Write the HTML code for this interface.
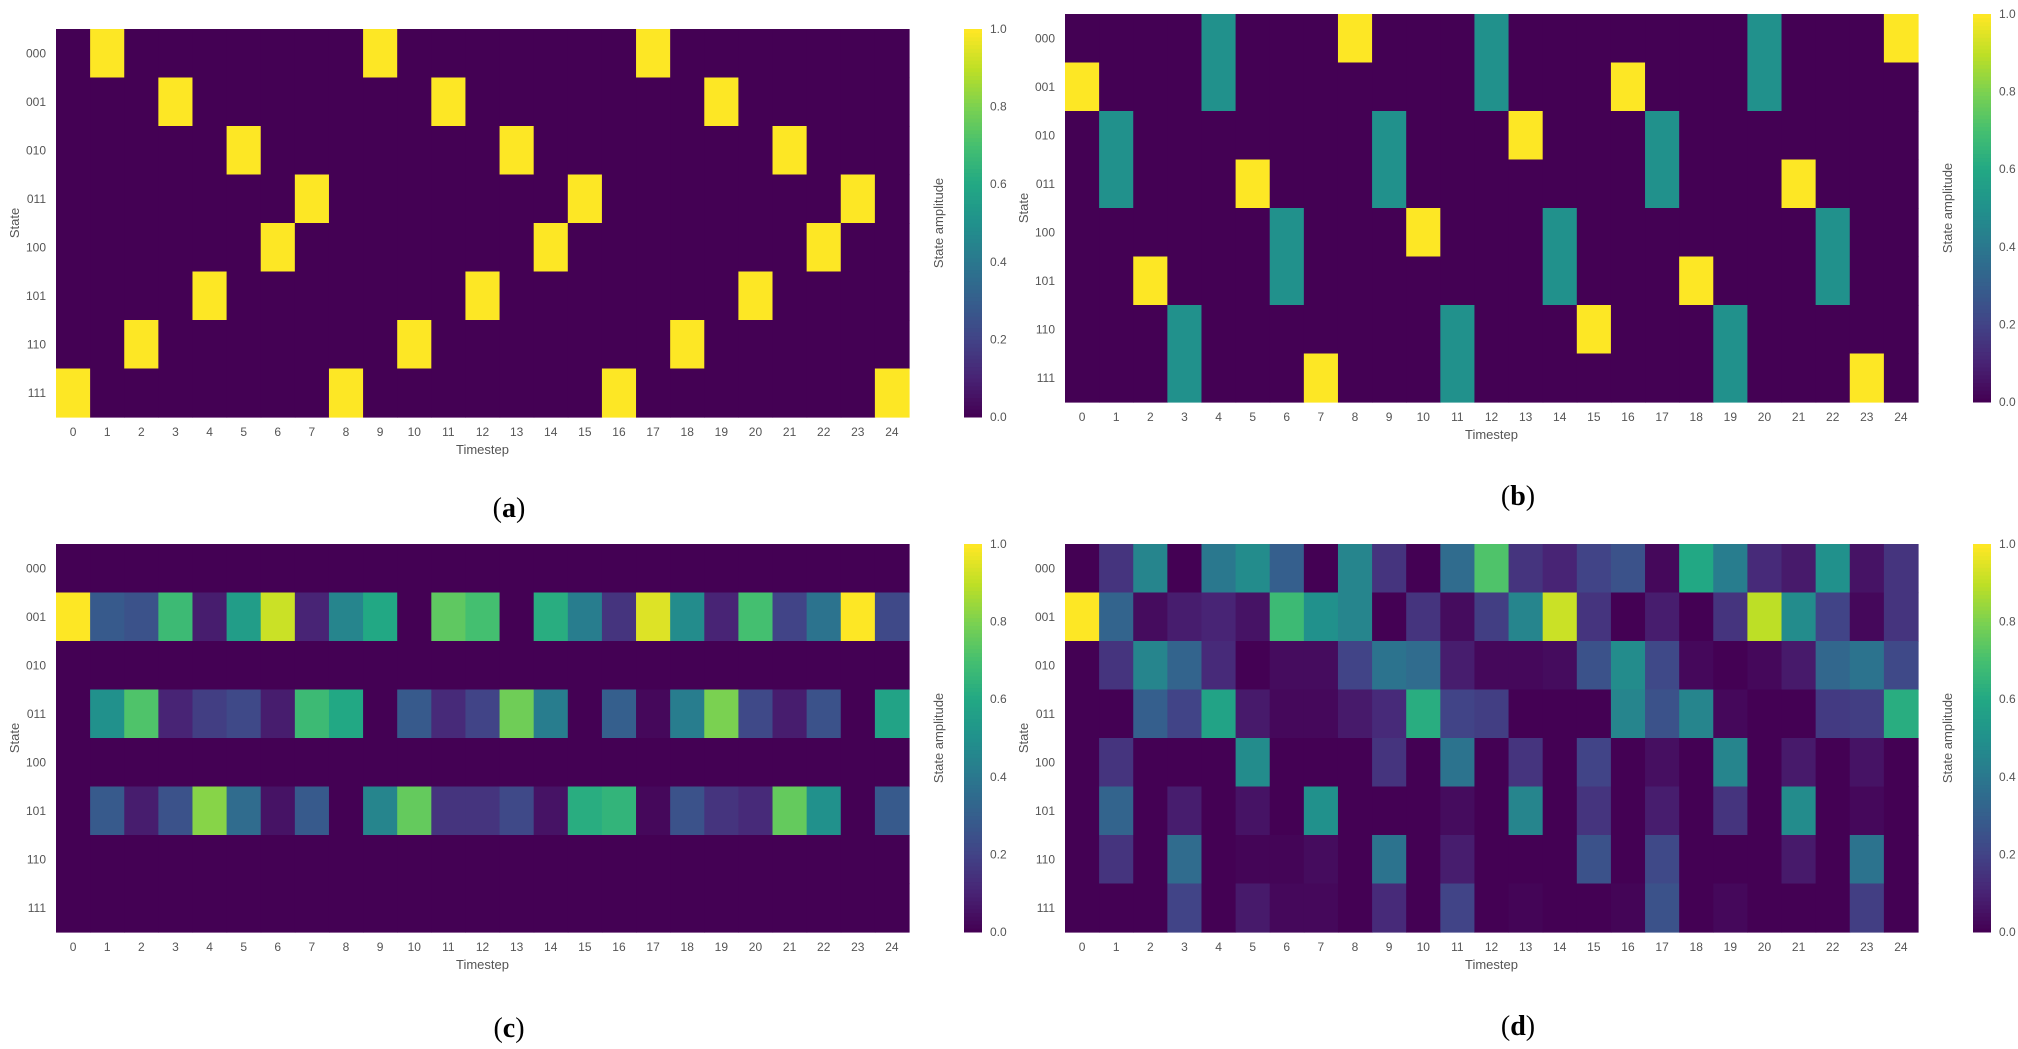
<!DOCTYPE html>
<html><head><meta charset="utf-8"><style>
body{margin:0;background:#fff;width:2018px;height:1049px;overflow:hidden}
svg{display:block}
text{font-family:"Liberation Sans",sans-serif;fill:#555}
</style></head><body>
<svg id="fig" width="2018" height="1049" xmlns="http://www.w3.org/2000/svg"></svg>
<script>
const states=["000","001","010","011","100","101","110","111"];
const timesteps=[0,1,2,3,4,5,6,7,8,9,10,11,12,13,14,15,16,17,18,19,20,21,22,23,24];
const cbarTicks=[0,0.2,0.4,0.6,0.8,1.0];
// panel a: index of the state with amplitude 1 at each timestep
const aPeak=[7,0,6,1,5,2,4,3,7,0,6,1,5,2,4,3,7,0,6,1,5,2,4,3,7];
// panel b: full-amplitude state / half-amplitude state pairs
const bFull=[1,-1,5,-1,-1,3,-1,7,0,-1,4,-1,-1,2,-1,6,1,-1,5,-1,-1,3,-1,7,0];
const bHalfStart=[-1,2,-1,6,0,-1,4,-1,-1,2,-1,6,0,-1,4,-1,-1,2,-1,6,0,-1,4,-1,-1];
const bHalfValue=0.5;
// panel c rows
const c001=[1.0,0.28,0.25,0.68,0.08,0.55,0.92,0.1,0.45,0.6,0,0.75,0.7,0,0.62,0.42,0.15,0.95,0.48,0.1,0.7,0.2,0.38,1.0,0.22];
const c011=[0,0.5,0.72,0.1,0.18,0.22,0.08,0.68,0.6,0,0.28,0.12,0.2,0.78,0.42,0,0.3,0.02,0.42,0.8,0.22,0.08,0.25,0,0.58];
const c101=[0,0.28,0.08,0.25,0.82,0.35,0.05,0.28,0,0.45,0.76,0.15,0.15,0.22,0.05,0.62,0.65,0.02,0.25,0.15,0.12,0.76,0.5,0,0.28];
// panel d rows
const d000=[0,.15,.45,0,.4,.48,.3,0,.45,.15,0,.35,.72,.15,.1,.2,.25,.02,.6,.42,.12,.07,.5,.05,.15];
const d001=[1,.32,.03,.08,.1,.05,.68,.5,.45,0,.15,.03,.18,.45,.92,.15,0,.08,0,.15,.9,.48,.2,.02,.15];
const d010=[0,.15,.45,.32,.12,0,.03,.03,.2,.38,.35,.08,.02,.02,.03,.25,.48,.22,.02,0,.02,.07,.33,.38,.22];
const d011=[0,0,.3,.2,.58,.07,.02,.02,.07,.12,.62,.2,.18,0,0,0,.45,.25,.45,.02,0,0,.17,.18,.62];
const d100=[0,.15,0,0,0,.48,0,0,0,.15,0,.38,0,.15,0,.2,0,.04,0,.45,0,.07,0,.05,0];
const d101=[0,.32,0,.08,0,.05,0,.5,0,0,0,.03,0,.45,0,.15,0,.08,0,.15,0,.48,0,.02,0];
const d110=[0,.15,0,.35,0,.01,.01,.03,0,.38,0,.08,0,0,0,.25,0,.22,0,0,0,.07,0,.38,0];
const d111=[0,0,0,.2,0,.07,.02,.02,0,.12,0,.2,0,.01,0,0,.01,.25,0,.02,0,0,0,.18,0];

const VS=[[68,1,84],[72,36,117],[65,68,135],[53,95,141],[42,120,142],[33,145,140],[34,168,132],[68,191,112],[122,209,81],[189,223,38],[253,231,37]];
function viridis(v){v=Math.max(0,Math.min(1,v));const p=v*10,i=Math.min(9,Math.floor(p)),f=p-i;const a=VS[i],b=VS[i+1];
return `rgb(${Math.round(a[0]+(b[0]-a[0])*f)},${Math.round(a[1]+(b[1]-a[1])*f)},${Math.round(a[2]+(b[2]-a[2])*f)})`;}

function matA(){return states.map((s,r)=>timesteps.map((t,c)=>aPeak[c]===r?1:0));}
function matB(){return states.map((s,r)=>timesteps.map((t,c)=>bFull[c]===r?1:((bHalfStart[c]===r||bHalfStart[c]+1===r)&&bHalfStart[c]>=0?bHalfValue:0)));}
function matC(){const z=timesteps.map(()=>0);return [z,c001,z,c011,z,c101,z,z];}
function matD(){return [d000,d001,d010,d011,d100,d101,d110,d111];}

const NS="http://www.w3.org/2000/svg";
const svg=document.getElementById('fig');
function el(tag,attrs,parent,txt){const e=document.createElementNS(NS,tag);for(const k in attrs)e.setAttribute(k,attrs[k]);if(txt!==undefined)e.textContent=txt;parent.appendChild(e);return e;}

function panel(id,mat,x0,y0,capX,capY){
  const W=853,H=388;
  const g=el('g',{},svg);
  
  
  const xs=c=>x0+c*W/timesteps.length, ys=r=>y0+r*H/states.length;
  const cw=W/timesteps.length, ch=H/states.length;
  mat.forEach((row,r)=>row.forEach((v,c)=>{
    const rc=el('rect',{x:xs(c),y:ys(r),width:cw+0.6,height:ch+0.6,fill:viridis(v)},g);
    
    
  }));
  states.forEach((s,r)=>{const t=el('text',{x:x0-10,y:ys(r)+ch/2+4,'font-size':12,'text-anchor':'end'},g,s);
    });
  timesteps.forEach((ts,c)=>{const t=el('text',{x:xs(c)+cw/2,y:y0+H+19,'font-size':12,'text-anchor':'middle'},g,ts);
    });
  const xt=el('text',{x:x0+W/2,y:y0+H+37,'font-size':13,'text-anchor':'middle'},g,'Timestep');
  
  const yt=el('text',{x:0,y:0,'font-size':13,'text-anchor':'middle',transform:`translate(${x0-37},${y0+H/2}) rotate(-90)`},g,'State');
  
  // colorbar
  const cbx=x0+908,cbw=18;
  const nSeg=100;
  for(let i=0;i<nSeg;i++){const v=i/(nSeg-1);
    const r=el('rect',{x:cbx,y:y0+H-(i+1)*H/nSeg,width:cbw,height:H/nSeg+0.5,fill:viridis(v)},g);
    }
  cbarTicks.forEach(v=>{const t=el('text',{x:cbx+cbw+8,y:y0+H-v*H+4,'font-size':12},g,v.toFixed(1));
    });
  const ct=el('text',{x:0,y:0,'font-size':13,'text-anchor':'middle',transform:`translate(${cbx-21},${y0+H/2}) rotate(-90)`},g,'State amplitude');
  
  const cap=el('text',{x:capX,y:capY,'font-size':28,'text-anchor':'middle',style:'font-family:"Liberation Serif",serif;fill:#000'},g,'('+id+')');
  
  cap.innerHTML='(<tspan font-weight="bold">'+id+'</tspan>)';
}
panel('a',matA(),56,29,509,517);
panel('b',matB(),1065,14,1518,505);
panel('c',matC(),56,544,509,1037);
panel('d',matD(),1065,544,1518,1035);
</script>
</body></html>
